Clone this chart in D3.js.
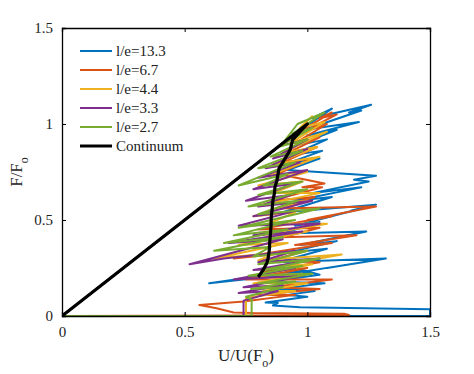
<!DOCTYPE html>
<html>
<head>
<meta charset="utf-8">
<script src="https://cdn.jsdelivr.net/npm/d3@7"></script>
<style>
html,body{margin:0;padding:0;background:#fff;}
text{font-family:"Liberation Serif","Times New Roman",serif;}
</style>
</head>
<body>
<svg id="chart" width="474" height="374"></svg>
<script>
const xTicks = [0, 0.5, 1, 1.5];
const yTicks = [0, 0.5, 1, 1.5];
const xTickLabels = ["0", "0.5", "1", "1.5"];
const yTickLabels = ["0", "0.5", "1", "1.5"];
const seriesNames = ["l/e=13.3", "l/e=6.7", "l/e=4.4", "l/e=3.3", "l/e=2.7", "Continuum"];
const seriesColors = ["#0072BD", "#D95319", "#EDB120", "#7E2F8E", "#77AC30", "#000000"];

// [U/U(Fo), F/Fo] pairs
const le13_3 = [[0,0],[0.95,0.95],[1.10,1.08],[1.02,1.03],[1.26,1.10],[1.17,1.06],[1.22,1.07],[0.99,0.97],[1.21,1.01],[1.00,0.94],[1.12,0.97],[0.96,0.89],[1.08,0.92],[0.94,0.84],[1.06,0.86],[0.93,0.80],[1.05,0.82],[0.92,0.76],[1.28,0.73],[1.19,0.71],[1.25,0.70],[1.02,0.64],[1.22,0.67],[0.95,0.60],[1.10,0.62],[0.90,0.54],[1.28,0.58],[1.18,0.55],[1.22,0.56],[0.95,0.47],[1.05,0.49],[0.90,0.43],[1.24,0.44],[1.13,0.41],[1.20,0.43],[0.97,0.37],[1.12,0.39],[0.92,0.33],[1.08,0.35],[0.88,0.28],[1.32,0.30],[1.08,0.25],[1.15,0.265],[0.88,0.21],[0.60,0.17],[0.98,0.24],[1.05,0.215],[0.85,0.18],[1.07,0.17],[0.88,0.14],[1.03,0.13],[0.92,0.11],[1.00,0.10],[0.83,0.07],[0.88,0.068],[0.86,0.055],[0.97,0.045],[1.5,0.035],[1.5,0.0],[0,0]];
const le6_7 = [[0,0],[0.93,0.93],[1.10,1.06],[1.05,1.03],[1.12,1.05],[0.97,0.95],[1.08,1.00],[0.95,0.90],[1.05,0.93],[0.92,0.85],[1.04,0.88],[0.90,0.80],[1.02,0.82],[0.88,0.74],[1.07,0.69],[0.98,0.67],[1.06,0.67],[0.85,0.60],[1.03,0.62],[0.87,0.56],[1.28,0.57],[1.00,0.50],[1.10,0.52],[0.80,0.45],[1.05,0.46],[0.90,0.41],[1.20,0.42],[0.95,0.37],[1.10,0.38],[0.70,0.30],[1.00,0.34],[0.85,0.29],[1.05,0.28],[0.82,0.23],[1.00,0.25],[0.75,0.19],[1.10,0.19],[0.85,0.15],[1.05,0.14],[0.80,0.11],[0.95,0.11],[0.74,0.075],[0.56,0.057],[0.63,0.04],[0.70,0.018],[0.78,0.015],[1.15,0.012],[1.17,0.005],[0.78,0.002],[0,0]];
const le4_4 = [[0,0],[0.94,0.94],[1.02,1.04],[0.97,0.98],[1.07,1.01],[0.93,0.90],[1.08,0.96],[0.90,0.85],[1.04,0.88],[0.86,0.79],[1.05,0.83],[0.84,0.73],[1.00,0.75],[0.80,0.68],[0.98,0.70],[0.86,0.64],[1.05,0.64],[0.82,0.58],[1.00,0.60],[0.78,0.52],[0.95,0.54],[0.84,0.48],[1.08,0.48],[0.80,0.42],[1.00,0.44],[0.72,0.37],[0.92,0.38],[0.62,0.30],[0.88,0.33],[0.80,0.29],[1.14,0.32],[0.88,0.26],[1.02,0.27],[0.80,0.21],[0.98,0.22],[0.78,0.17],[1.00,0.17],[0.82,0.13],[0.95,0.13],[0.78,0.10],[0.75,0.09],[0.75,0.0],[0,0]];
const le3_3 = [[0,0],[0.92,0.92],[0.98,0.97],[0.90,0.89],[1.00,0.92],[0.86,0.82],[1.00,0.87],[0.83,0.77],[0.97,0.80],[0.80,0.72],[1.00,0.76],[0.78,0.66],[0.95,0.69],[0.75,0.60],[0.93,0.63],[0.80,0.57],[1.02,0.60],[0.78,0.52],[0.96,0.55],[0.72,0.47],[1.05,0.48],[0.78,0.42],[0.98,0.44],[0.68,0.38],[0.90,0.40],[0.52,0.27],[0.66,0.30],[0.95,0.34],[0.80,0.28],[1.05,0.30],[0.78,0.24],[0.95,0.25],[0.70,0.19],[0.98,0.21],[0.74,0.15],[0.90,0.16],[0.72,0.12],[0.88,0.13],[0.74,0.08],[0.74,0.0],[0,0]];
const le2_7 = [[0,0],[0.90,0.90],[0.96,1.00],[1.07,1.06],[0.94,0.95],[1.02,0.98],[0.88,0.88],[1.00,0.92],[0.85,0.83],[0.98,0.86],[0.80,0.77],[0.95,0.80],[0.72,0.68],[0.92,0.74],[0.82,0.68],[0.98,0.70],[0.80,0.63],[1.00,0.66],[0.76,0.57],[0.96,0.60],[0.80,0.53],[1.05,0.56],[0.72,0.46],[0.95,0.50],[0.70,0.42],[0.92,0.45],[0.66,0.38],[0.90,0.41],[0.62,0.34],[0.85,0.36],[0.78,0.31],[1.00,0.34],[0.80,0.27],[1.05,0.30],[0.82,0.24],[0.98,0.26],[0.76,0.21],[1.02,0.22],[0.80,0.17],[0.95,0.18],[0.77,0.14],[0.90,0.15],[0.75,0.10],[0.773,0.085],[0.773,0.0],[0,0]];
const continuum = [[0,0],[1.0,1.0],[0.97,0.96],[0.94,0.917],[0.93,0.865],[0.90,0.80],[0.885,0.77],[0.875,0.70],[0.868,0.672],[0.866,0.64],[0.86,0.604],[0.856,0.55],[0.853,0.516],[0.852,0.47],[0.85,0.43],[0.847,0.39],[0.845,0.344],[0.84,0.30],[0.835,0.276],[0.82,0.24],[0.80,0.203]];

const allSeries = [le13_3, le6_7, le4_4, le3_3, le2_7, continuum];

const svg = d3.select("#chart");
const W = 474, H = 374;
const mLeft = 62, mRight = 430, mTop = 28, mBottom = 316;

const x = d3.scaleLinear().domain([0, 1.5]).range([mLeft, mRight]);
const y = d3.scaleLinear().domain([0, 1.5]).range([mBottom, mTop]);

svg.append("rect").attr("width", W).attr("height", H).attr("fill", "#fff");

svg.append("defs").append("clipPath").attr("id", "clip")
  .append("rect").attr("x", mLeft).attr("y", mTop - 1).attr("width", mRight - mLeft + 1).attr("height", mBottom - mTop + 2);

const line = d3.line().x(d => x(d[0])).y(d => y(d[1]));

const plot = svg.append("g").attr("clip-path", "url(#clip)");
allSeries.forEach((s, i) => {
  plot.append("path")
    .attr("d", line(s))
    .attr("fill", "none")
    .attr("stroke", seriesColors[i])
    .attr("stroke-width", i === 5 ? 3.2 : 2)
    .attr("stroke-linejoin", "round");
});

const fmt = (labels, ticks) => d => labels[ticks.indexOf(d)];
const xAxis = d3.axisBottom(x).tickValues(xTicks).tickSize(-4).tickPadding(10).tickFormat(fmt(xTickLabels, xTicks));
const xAxisTop = d3.axisTop(x).tickValues(xTicks).tickSize(-4).tickFormat("");
const yAxis = d3.axisLeft(y).tickValues(yTicks).tickSize(-4).tickPadding(9).tickFormat(fmt(yTickLabels, yTicks));
const yAxisRight = d3.axisRight(y).tickValues(yTicks).tickSize(-4).tickFormat("");

const styleAxis = g => {
  g.select(".domain").attr("stroke", "#000").attr("stroke-width", 1.3);
  g.selectAll(".tick line").attr("stroke", "#000").attr("stroke-width", 1);
  g.selectAll(".tick text").attr("fill", "#222").style("font-family", "'Liberation Serif', serif").style("font-size", "15px");
};
svg.append("g").attr("transform", `translate(0,${mBottom})`).call(xAxis).call(styleAxis);
svg.append("g").attr("transform", `translate(0,${mTop})`).call(xAxisTop).call(styleAxis);
svg.append("g").attr("transform", `translate(${mLeft},0)`).call(yAxis).call(styleAxis);
svg.append("g").attr("transform", `translate(${mRight},0)`).call(yAxisRight).call(styleAxis);

const xl = svg.append("text").attr("x", (mLeft + mRight) / 2).attr("y", 361).attr("text-anchor", "middle")
  .attr("fill", "#222").style("font-size", "17px");
xl.append("tspan").text("U/U(F");
xl.append("tspan").attr("dy", 6).style("font-size", "12px").text("o");
xl.append("tspan").attr("dy", -6).text(")");

const yl = svg.append("text").attr("transform", `translate(22,${(mTop + mBottom) / 2}) rotate(-90)`)
  .attr("text-anchor", "middle").attr("fill", "#222").style("font-size", "17px");
yl.append("tspan").text("F/F");
yl.append("tspan").attr("dy", 6).style("font-size", "12px").text("o");

const legend = svg.append("g");
seriesNames.forEach((name, i) => {
  const yy = 51 + i * 19;
  legend.append("line").attr("x1", 80).attr("x2", 112).attr("y1", yy).attr("y2", yy)
    .attr("stroke", seriesColors[i]).attr("stroke-width", i === 5 ? 3 : 2);
  legend.append("text").attr("x", 116).attr("y", yy + 5).attr("fill", "#222")
    .style("font-size", "15px").text(name);
});
</script>
</body>
</html>
